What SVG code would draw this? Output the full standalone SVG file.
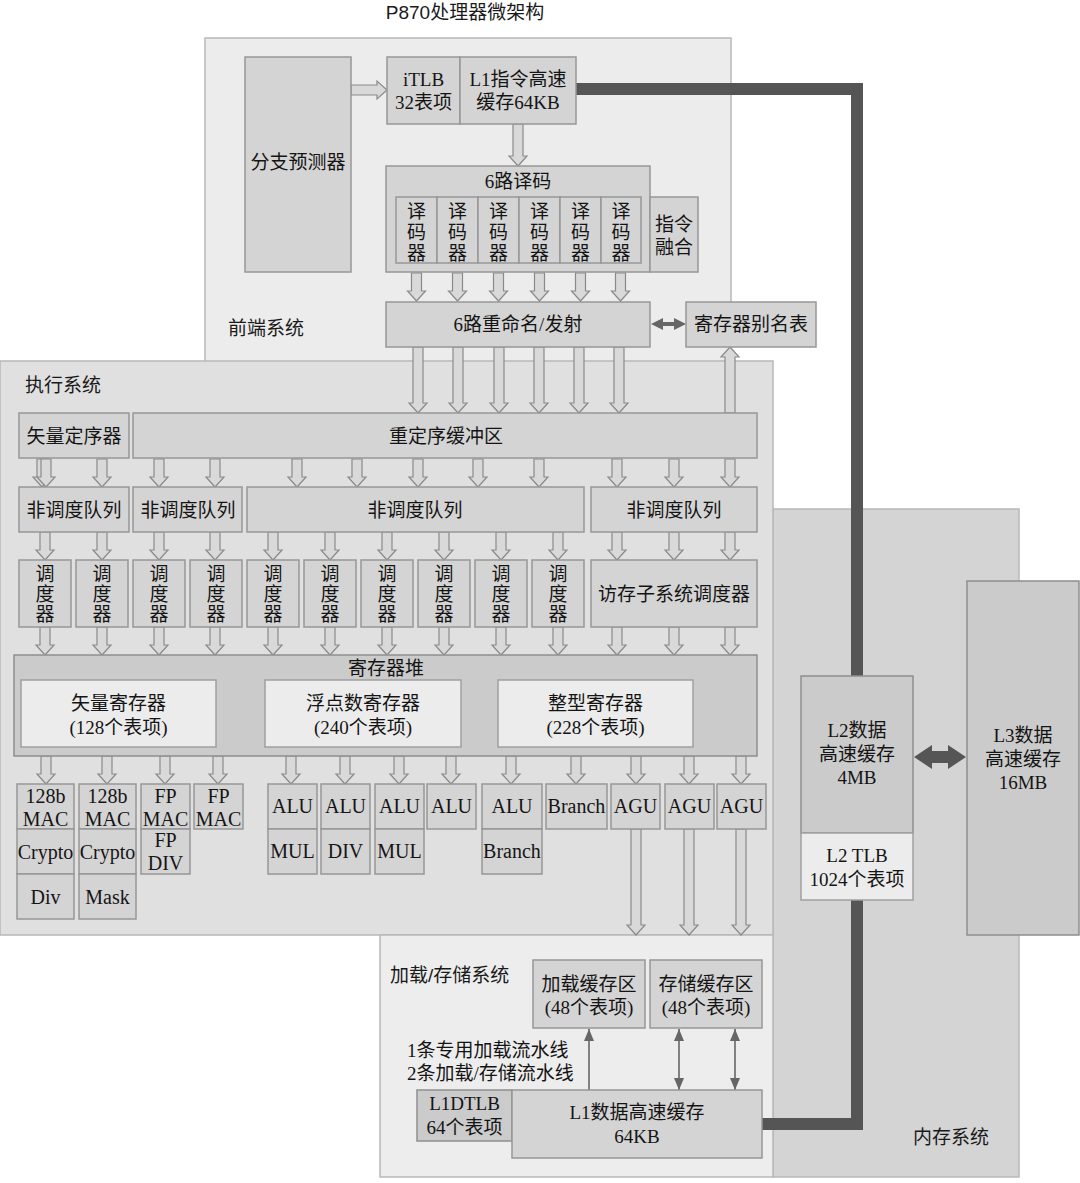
<svg xmlns="http://www.w3.org/2000/svg" xmlns:xlink="http://www.w3.org/1999/xlink" width="1080" height="1183" viewBox="0 0 1080 1183">
<style>
.panel{stroke:#b8b8b8;stroke-width:1.5}
.b{fill:#d4d4d4;stroke:#979797;stroke-width:1.5}
.bl{fill:#ececec;stroke:#a0a0a0;stroke-width:1.5}
.bd{fill:#cbcbcb;stroke:#8e8e8e;stroke-width:1.5}
.t{font-family:"Liberation Serif","Noto Sans CJK SC",serif;font-size:19px;fill:#141414;text-anchor:middle;dominant-baseline:central}
.u{font-size:20px}
.s{font-family:"Liberation Sans","Noto Sans CJK SC",sans-serif;font-size:19px;fill:#1a1a1a;dominant-baseline:central}
.ha{fill:#d9d9d9;stroke:#8a8a8a;stroke-width:1.2}
.thin{stroke:#666;stroke-width:1.6;fill:none}
.thick{stroke:#555;stroke-width:12;fill:none;stroke-linejoin:miter}
</style>
<defs>
<path id="d28" d="M-5,0H5V18H9L0,28L-9,18H-5Z"/>
<path id="d42" d="M-5,0H5V32H9L0,42L-9,32H-5Z"/>
<path id="d66" d="M-5,0H5V56H9L0,66L-9,56H-5Z"/>
<path id="d106" d="M-5,0H5V96H9L0,106L-9,96H-5Z"/>
<marker id="ah" viewBox="0 0 12 10" refX="12" refY="5" markerWidth="12" markerHeight="10" markerUnits="userSpaceOnUse" orient="auto-start-reverse"><path d="M0,0L12,5L0,10Z" fill="#666"/></marker>
</defs>
<rect width="1080" height="1183" fill="#ffffff"/>
<text class="s" x="465" y="12" text-anchor="middle" style="font-size:19px">P870处理器微架构</text>

<g id="panels">
<rect id="mem-panel" class="panel" x="773" y="509" width="246" height="668" fill="#d4d4d4"/>
<rect id="fe-panel" class="panel" x="205" y="38" width="526" height="360" fill="#ececec"/>
<rect id="ex-panel" class="panel" x="0" y="361" width="773" height="574" fill="#e0e0e0"/>
<rect id="ls-panel" class="panel" x="380" y="935" width="393" height="242" fill="#ededed"/>
<text class="s" x="228" y="328">前端系统</text>
<text class="s" x="25" y="385">执行系统</text>
<text class="s" x="390" y="975">加载/存储系统</text>
<text class="s" x="913" y="1137">内存系统</text>
</g>

<g id="connectors">
<path class="thick" d="M576,89H857V676"/>
<path class="thick" d="M857,900V1124H762"/>
<g class="ha">
<path d="M351,85H377V81L387,90L377,99V95H351Z"/>
<use xlink:href="#d42" x="518" y="124"/>
<use xlink:href="#d28" x="416.5" y="273"/><use xlink:href="#d28" x="457.5" y="273"/><use xlink:href="#d28" x="498.5" y="273"/><use xlink:href="#d28" x="539.5" y="273"/><use xlink:href="#d28" x="580.5" y="273"/><use xlink:href="#d28" x="620.5" y="273"/>
<use xlink:href="#d66" x="418" y="347"/><use xlink:href="#d66" x="458" y="347"/><use xlink:href="#d66" x="499" y="347"/><use xlink:href="#d66" x="539" y="347"/><use xlink:href="#d66" x="579" y="347"/><use xlink:href="#d66" x="619" y="347"/>
<path d="M725,413V357H721L730,347L739,357H735V413Z"/>
<use xlink:href="#d28" x="42" y="459"/><use xlink:href="#d28" x="46" y="459"/><use xlink:href="#d28" x="102" y="459"/>
<use xlink:href="#d28" x="159" y="459"/><use xlink:href="#d28" x="215" y="459"/><use xlink:href="#d28" x="297" y="459"/><use xlink:href="#d28" x="357" y="459"/><use xlink:href="#d28" x="418" y="459"/><use xlink:href="#d28" x="478" y="459"/><use xlink:href="#d28" x="539" y="459"/><use xlink:href="#d28" x="617" y="459"/><use xlink:href="#d28" x="674" y="459"/><use xlink:href="#d28" x="730" y="459"/>
<use xlink:href="#d28" x="45" y="532"/><use xlink:href="#d28" x="102" y="532"/><use xlink:href="#d28" x="159" y="532"/><use xlink:href="#d28" x="215" y="532"/><use xlink:href="#d28" x="273" y="532"/><use xlink:href="#d28" x="330" y="532"/><use xlink:href="#d28" x="387" y="532"/><use xlink:href="#d28" x="444" y="532"/><use xlink:href="#d28" x="501" y="532"/><use xlink:href="#d28" x="558" y="532"/><use xlink:href="#d28" x="617" y="532"/><use xlink:href="#d28" x="674" y="532"/><use xlink:href="#d28" x="730" y="532"/>
<use xlink:href="#d28" x="45" y="627"/><use xlink:href="#d28" x="102" y="627"/><use xlink:href="#d28" x="159" y="627"/><use xlink:href="#d28" x="215" y="627"/><use xlink:href="#d28" x="273" y="627"/><use xlink:href="#d28" x="330" y="627"/><use xlink:href="#d28" x="387" y="627"/><use xlink:href="#d28" x="444" y="627"/><use xlink:href="#d28" x="501" y="627"/><use xlink:href="#d28" x="558" y="627"/><use xlink:href="#d28" x="617" y="627"/><use xlink:href="#d28" x="674" y="627"/><use xlink:href="#d28" x="730" y="627"/>
<use xlink:href="#d28" x="46" y="756"/><use xlink:href="#d28" x="107" y="756"/><use xlink:href="#d28" x="165" y="756"/><use xlink:href="#d28" x="218" y="756"/><use xlink:href="#d28" x="291" y="756"/><use xlink:href="#d28" x="345" y="756"/><use xlink:href="#d28" x="399" y="756"/><use xlink:href="#d28" x="451" y="756"/><use xlink:href="#d28" x="511" y="756"/><use xlink:href="#d28" x="576" y="756"/><use xlink:href="#d28" x="636" y="756"/><use xlink:href="#d28" x="689" y="756"/><use xlink:href="#d28" x="741" y="756"/>
<use xlink:href="#d106" x="636" y="829"/><use xlink:href="#d106" x="689" y="829"/><use xlink:href="#d106" x="741" y="829"/>
</g>
<path d="M651,324L663,318V322H674V318L686,324L674,330V326H663V330Z" fill="#666"/>
<path d="M914,757L932,745V751H948V745L966,757L948,769V763H932V769Z" fill="#555"/>
<line class="thin" x1="589" y1="1090" x2="589" y2="1029" marker-end="url(#ah)"/>
<line class="thin" x1="679" y1="1090" x2="679" y2="1029" marker-start="url(#ah)" marker-end="url(#ah)"/>
<line class="thin" x1="735" y1="1090" x2="735" y2="1029" marker-start="url(#ah)" marker-end="url(#ah)"/>
</g>

<g id="branch-predictor"><rect class="b" x="245" y="57" width="106" height="215"/><text class="t" x="298" y="162">分支预测器</text></g>
<g id="itlb"><rect class="b" x="387" y="57" width="73" height="67"/><text class="t" x="423.5" y="79">iTLB</text><text class="t" x="423.5" y="102">32表项</text></g>
<g id="l1i"><rect class="b" x="460" y="57" width="116" height="67"/><text class="t" x="518" y="79">L1指令高速</text><text class="t" x="518" y="102">缓存64KB</text></g>
<g id="decode">
<rect class="b" x="386" y="166" width="264" height="106"/><text class="t" x="518" y="181">6路译码</text>
<rect class="b" x="396" y="197" width="41" height="66"/><rect class="b" x="437" y="197" width="41" height="66"/><rect class="b" x="478" y="197" width="41" height="66"/><rect class="b" x="519" y="197" width="41" height="66"/><rect class="b" x="560" y="197" width="41" height="66"/><rect class="b" x="601" y="197" width="40" height="66"/>
<g class="t">
<text x="416.5" y="211">译</text><text x="416.5" y="232">码</text><text x="416.5" y="253">器</text>
<text x="457.5" y="211">译</text><text x="457.5" y="232">码</text><text x="457.5" y="253">器</text>
<text x="498.5" y="211">译</text><text x="498.5" y="232">码</text><text x="498.5" y="253">器</text>
<text x="539.5" y="211">译</text><text x="539.5" y="232">码</text><text x="539.5" y="253">器</text>
<text x="580.5" y="211">译</text><text x="580.5" y="232">码</text><text x="580.5" y="253">器</text>
<text x="621" y="211">译</text><text x="621" y="232">码</text><text x="621" y="253">器</text>
</g>
</g>
<g id="fusion"><rect class="b" x="650" y="197" width="48" height="75"/><text class="t" x="674" y="224">指令</text><text class="t" x="674" y="247">融合</text></g>
<g id="rename"><rect class="b" x="386" y="302" width="264" height="45"/><text class="t" x="518" y="324">6路重命名/发射</text></g>
<g id="rat"><rect class="b" x="686" y="302" width="130" height="45"/><text class="t" x="751" y="324">寄存器别名表</text></g>

<g id="vseq"><rect class="b" x="19" y="413" width="110" height="45"/><text class="t" x="74" y="436">矢量定序器</text></g>
<g id="rob"><rect class="b" x="133" y="413" width="624" height="45"/><text class="t" x="446" y="436">重定序缓冲区</text></g>
<g id="q1"><rect class="b" x="19" y="487" width="110" height="45"/><text class="t" x="74" y="510">非调度队列</text></g>
<g id="q2"><rect class="b" x="133" y="487" width="109" height="45"/><text class="t" x="188" y="510">非调度队列</text></g>
<g id="q3"><rect class="b" x="247" y="487" width="337" height="45"/><text class="t" x="415" y="510">非调度队列</text></g>
<g id="q4"><rect class="b" x="591" y="487" width="166" height="45"/><text class="t" x="674" y="510">非调度队列</text></g>
<g id="schedulers">
<rect class="b" x="19" y="560" width="52" height="67"/><rect class="b" x="76" y="560" width="52" height="67"/><rect class="b" x="133" y="560" width="52" height="67"/><rect class="b" x="190" y="560" width="52" height="67"/><rect class="b" x="247" y="560" width="52" height="67"/><rect class="b" x="304" y="560" width="52" height="67"/><rect class="b" x="361" y="560" width="52" height="67"/><rect class="b" x="418" y="560" width="52" height="67"/><rect class="b" x="475" y="560" width="52" height="67"/><rect class="b" x="532" y="560" width="52" height="67"/>
<g class="t">
<text x="45" y="574">调</text><text x="45" y="594">度</text><text x="45" y="614">器</text>
<text x="102" y="574">调</text><text x="102" y="594">度</text><text x="102" y="614">器</text>
<text x="159" y="574">调</text><text x="159" y="594">度</text><text x="159" y="614">器</text>
<text x="216" y="574">调</text><text x="216" y="594">度</text><text x="216" y="614">器</text>
<text x="273" y="574">调</text><text x="273" y="594">度</text><text x="273" y="614">器</text>
<text x="330" y="574">调</text><text x="330" y="594">度</text><text x="330" y="614">器</text>
<text x="387" y="574">调</text><text x="387" y="594">度</text><text x="387" y="614">器</text>
<text x="444" y="574">调</text><text x="444" y="594">度</text><text x="444" y="614">器</text>
<text x="501" y="574">调</text><text x="501" y="594">度</text><text x="501" y="614">器</text>
<text x="558" y="574">调</text><text x="558" y="594">度</text><text x="558" y="614">器</text>
</g>
</g>
<g id="lsu-sched"><rect class="b" x="591" y="560" width="166" height="67"/><text class="t" x="674" y="594">访存子系统调度器</text></g>
<g id="regfile">
<rect class="bd" x="14" y="655" width="743" height="101"/><text class="t" x="386" y="668">寄存器堆</text>
<rect class="bl" x="21" y="680" width="195" height="67"/><text class="t" x="118.5" y="703">矢量寄存器</text><text class="t" x="118.5" y="727">(128个表项)</text>
<rect class="bl" x="265" y="680" width="196" height="67"/><text class="t" x="363" y="703">浮点数寄存器</text><text class="t" x="363" y="727">(240个表项)</text>
<rect class="bl" x="498" y="680" width="195" height="67"/><text class="t" x="595.5" y="703">整型寄存器</text><text class="t" x="595.5" y="727">(228个表项)</text>
</g>
<g id="vec-unit-1"><rect class="b" x="17" y="784" width="57" height="45"/><rect class="b" x="17" y="829" width="57" height="45"/><rect class="b" x="17" y="874" width="57" height="45"/><text class="t u" x="45.5" y="796">128b</text><text class="t u" x="45.5" y="819">MAC</text><text class="t u" x="45.5" y="852">Crypto</text><text class="t u" x="45.5" y="897">Div</text></g>
<g id="vec-unit-2"><rect class="b" x="79" y="784" width="57" height="45"/><rect class="b" x="79" y="829" width="57" height="45"/><rect class="b" x="79" y="874" width="57" height="45"/><text class="t u" x="107.5" y="796">128b</text><text class="t u" x="107.5" y="819">MAC</text><text class="t u" x="107.5" y="852">Crypto</text><text class="t u" x="107.5" y="897">Mask</text></g>
<g id="fp-unit-1"><rect class="b" x="141" y="784" width="49" height="45"/><rect class="b" x="141" y="829" width="49" height="45"/><text class="t u" x="165.5" y="796">FP</text><text class="t u" x="165.5" y="819">MAC</text><text class="t u" x="165.5" y="840">FP</text><text class="t u" x="165.5" y="863">DIV</text></g>
<g id="fp-unit-2"><rect class="b" x="194" y="784" width="49" height="45"/><text class="t u" x="218.5" y="796">FP</text><text class="t u" x="218.5" y="819">MAC</text></g>
<g id="int-unit-1"><rect class="b" x="268" y="784" width="49" height="45"/><rect class="b" x="268" y="829" width="49" height="45"/><text class="t u" x="292.5" y="806">ALU</text><text class="t u" x="292.5" y="851">MUL</text></g>
<g id="int-unit-2"><rect class="b" x="321" y="784" width="49" height="45"/><rect class="b" x="321" y="829" width="49" height="45"/><text class="t u" x="345.5" y="806">ALU</text><text class="t u" x="345.5" y="851">DIV</text></g>
<g id="int-unit-3"><rect class="b" x="375" y="784" width="49" height="45"/><rect class="b" x="375" y="829" width="49" height="45"/><text class="t u" x="399.5" y="806">ALU</text><text class="t u" x="399.5" y="851">MUL</text></g>
<g id="int-unit-4"><rect class="b" x="427" y="784" width="49" height="45"/><text class="t u" x="451.5" y="806">ALU</text></g>
<g id="int-unit-5"><rect class="b" x="482" y="784" width="60" height="45"/><rect class="b" x="482" y="829" width="60" height="45"/><text class="t u" x="512" y="806">ALU</text><text class="t u" x="512" y="851">Branch</text></g>
<g id="branch-unit"><rect class="b" x="546" y="784" width="61" height="45"/><text class="t u" x="576.5" y="806">Branch</text></g>
<g id="agu-1"><rect class="b" x="611" y="784" width="49" height="45"/><text class="t u" x="635.5" y="806">AGU</text></g>
<g id="agu-2"><rect class="b" x="665" y="784" width="49" height="45"/><text class="t u" x="689.5" y="806">AGU</text></g>
<g id="agu-3"><rect class="b" x="717" y="784" width="49" height="45"/><text class="t u" x="741.5" y="806">AGU</text></g>

<g id="load-buffer"><rect class="b" x="533" y="960" width="112" height="68"/><text class="t" x="589" y="984">加载缓存区</text><text class="t" x="589" y="1007">(48个表项)</text></g>
<g id="store-buffer"><rect class="b" x="650" y="960" width="112" height="68"/><text class="t" x="706" y="984">存储缓存区</text><text class="t" x="706" y="1007">(48个表项)</text></g>
<g id="pipelines"><text class="t" x="407" y="1050" style="text-anchor:start">1条专用加载流水线</text><text class="t" x="407" y="1073" style="text-anchor:start">2条加载/存储流水线</text></g>
<g id="l1dtlb"><rect class="bd" x="417" y="1090" width="95" height="51"/><text class="t" x="464.5" y="1103">L1DTLB</text><text class="t" x="464.5" y="1127">64个表项</text></g>
<g id="l1d"><rect class="b" x="512" y="1090" width="250" height="68"/><text class="t" x="637" y="1112">L1数据高速缓存</text><text class="t" x="637" y="1136">64KB</text></g>

<g id="l2"><rect class="bd" x="801" y="676" width="112" height="157"/><text class="t" x="857" y="730">L2数据</text><text class="t" x="857" y="754">高速缓存</text><text class="t" x="857" y="777">4MB</text></g>
<g id="l2tlb"><rect class="bl" x="801" y="833" width="112" height="67"/><text class="t" x="857" y="855">L2 TLB</text><text class="t" x="857" y="879">1024个表项</text></g>
<g id="l3"><rect class="bd" x="967" y="581" width="112" height="354"/><text class="t" x="1023" y="735">L3数据</text><text class="t" x="1023" y="759">高速缓存</text><text class="t" x="1023" y="782">16MB</text></g>
</svg>
